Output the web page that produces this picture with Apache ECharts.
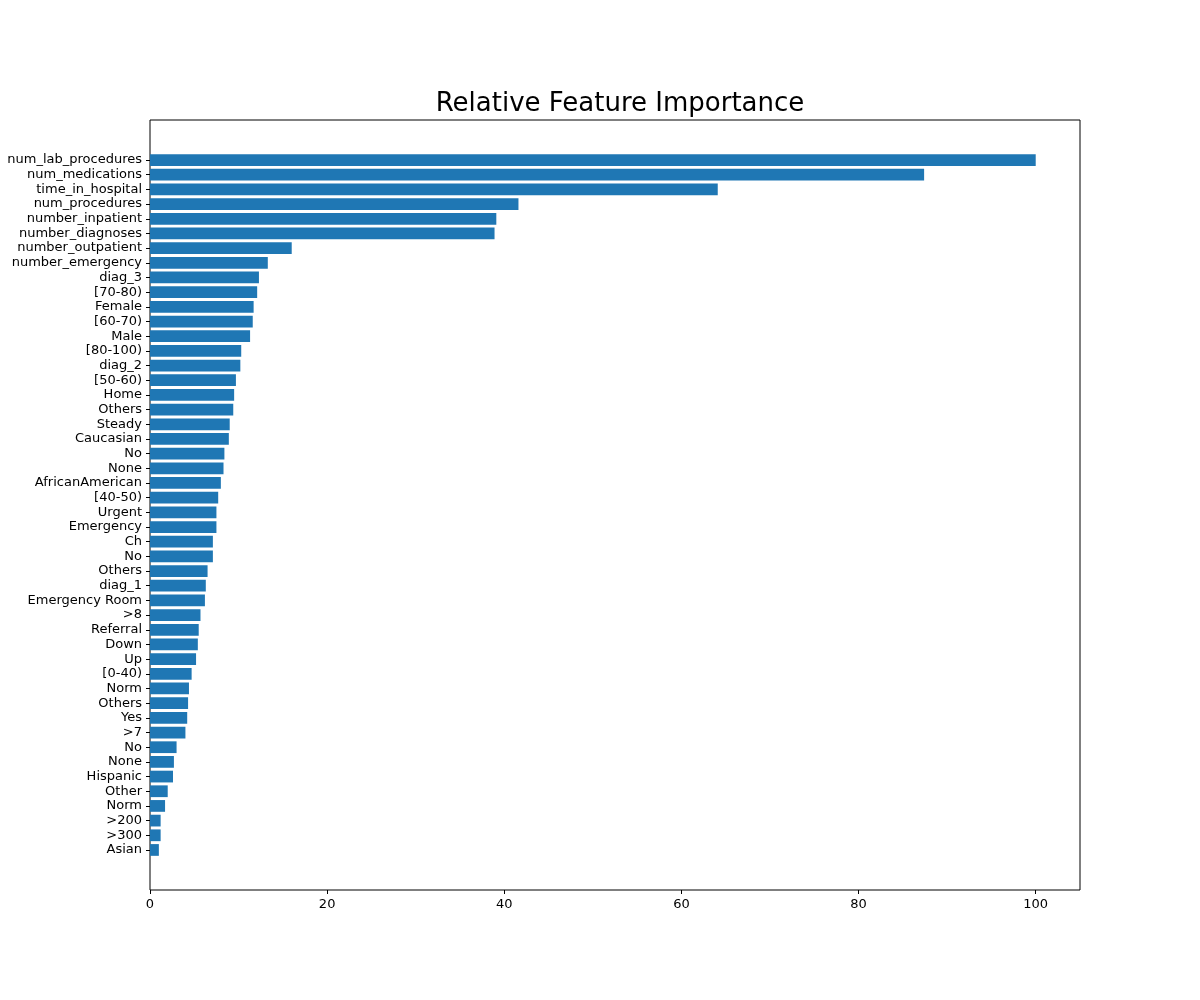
<!DOCTYPE html>
<html><head><meta charset="utf-8"><script src="https://cdn.jsdelivr.net/npm/echarts@6/dist/echarts.min.js"></script></head>
<body style="margin:0;background:#fff"><div id="c" style="width:1200px;height:1000px"></div>
<script>
const features = ["num_lab_procedures","num_medications","time_in_hospital","num_procedures","number_inpatient","number_diagnoses","number_outpatient","number_emergency","diag_3","[70-80)","Female","[60-70)","Male","[80-100)","diag_2","[50-60)","Home","Others","Steady","Caucasian","No","None","AfricanAmerican","[40-50)","Urgent","Emergency","Ch","No","Others","diag_1","Emergency Room",">8","Referral","Down","Up","[0-40)","Norm","Others","Yes",">7","No","None","Hispanic","Other","Norm",">200",">300","Asian"];
const importance = [100,87.4,64.1,41.6,39.1,38.9,16.0,13.3,12.3,12.1,11.7,11.6,11.3,10.3,10.2,9.7,9.5,9.4,9.0,8.9,8.4,8.3,8.0,7.7,7.5,7.5,7.1,7.1,6.5,6.3,6.2,5.7,5.5,5.4,5.2,4.7,4.4,4.3,4.2,4.0,3.0,2.7,2.6,2.0,1.7,1.2,1.2,1.0];
const xTicks = [0,20,40,60,80,100];
const font = 'DejaVu Sans';
const chart = echarts.init(document.getElementById('c'));
chart.setOption({
  animation:false,
  title:{text:'Relative Feature Importance',left:615,top:86,textAlign:'center',textStyle:{fontFamily:font,fontSize:26,fontWeight:'normal',color:'#000'}},
  grid:[
    {left:150,width:930,top:120,height:770,show:true,borderColor:'#000',borderWidth:1,z:0},
    {left:150,width:930,top:152.7,height:704.6,show:false}
  ],
  xAxis:[
    {gridIndex:0,type:'value',min:0,max:105,interval:20,splitLine:{show:false},axisLine:{show:false},
     axisTick:{show:true,length:4,lineStyle:{color:'#000'},customValues:xTicks},
     axisLabel:{color:'#000',fontFamily:font,fontSize:13,customValues:xTicks,margin:8}},
    {gridIndex:1,type:'value',min:0,max:105,show:false}
  ],
  yAxis:[
    {gridIndex:0,type:'value',min:0,max:1,show:false},
    {gridIndex:1,type:'category',inverse:true,data:features,axisLine:{show:false},
     axisTick:{show:true,length:4,alignWithLabel:true,lineStyle:{color:'#000'}},
     axisLabel:{color:'#000',fontFamily:font,fontSize:13,interval:0,margin:8}}
  ],
  series:[{type:'bar',xAxisIndex:1,yAxisIndex:1,data:importance,barCategoryGap:'20%',itemStyle:{color:'#1f77b4'}}]
});
</script></body></html>
